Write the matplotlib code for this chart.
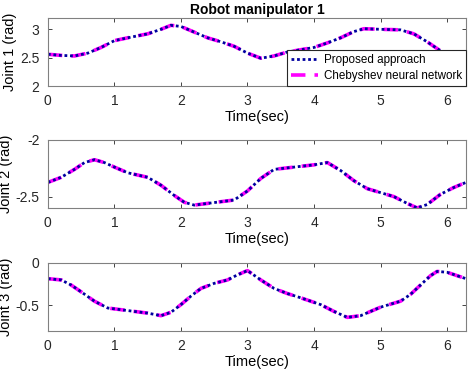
import numpy as np
import matplotlib.pyplot as plt

plt.rcParams['font.family'] = ['Liberation Sans', 'DejaVu Sans']

# values
t1 = [0, 0.2, 0.4, 0.6, 0.8, 1.0, 1.2, 1.5, 1.7, 1.85, 2.0, 2.2, 2.4, 2.6, 2.8, 3.0, 3.2,
      3.4, 3.6, 3.8, 4.0, 4.2, 4.4, 4.6, 4.75, 5.0, 5.3, 5.5, 5.7, 5.9, 6.1, 6.283]
j1 = [2.56, 2.54, 2.53, 2.58, 2.68, 2.8, 2.85, 2.92, 3.0, 3.07, 3.05, 2.95, 2.85, 2.78, 2.7, 2.58, 2.49,
      2.53, 2.6, 2.64, 2.68, 2.76, 2.85, 2.96, 3.01, 3.0, 2.99, 2.92, 2.78, 2.62, 2.55, 2.52]

t2 = [0, 0.2, 0.4, 0.55, 0.7, 0.85, 1.0, 1.2, 1.5, 1.7, 1.9, 2.05, 2.2, 2.4, 2.6, 2.8, 3.0,
      3.2, 3.4, 3.7, 4.0, 4.2, 4.4, 4.6, 4.8, 5.0, 5.2, 5.4, 5.55, 5.7, 5.9, 6.1, 6.283]
j2 = [-2.375, -2.33, -2.26, -2.2, -2.175, -2.2, -2.24, -2.29, -2.33, -2.4, -2.49, -2.55, -2.575,
      -2.56, -2.545, -2.53, -2.45, -2.34, -2.26, -2.24, -2.22, -2.2, -2.27, -2.36, -2.43, -2.465,
      -2.5, -2.56, -2.6, -2.57, -2.48, -2.42, -2.375]

t3 = [0, 0.2, 0.35, 0.5, 0.7, 0.9, 1.2, 1.5, 1.7, 1.85, 2.0, 2.15, 2.3, 2.5, 2.7, 2.85, 3.0,
      3.2, 3.4, 3.6, 3.8, 4.1, 4.3, 4.5, 4.7, 5.0, 5.3, 5.45, 5.6, 5.75, 5.85, 6.0, 6.283]
j3 = [-0.185, -0.2, -0.26, -0.34, -0.45, -0.53, -0.56, -0.59, -0.62, -0.58, -0.49, -0.39, -0.3,
      -0.24, -0.2, -0.14, -0.09, -0.2, -0.3, -0.36, -0.41, -0.49, -0.57, -0.64, -0.62, -0.52,
      -0.45, -0.37, -0.26, -0.15, -0.1, -0.11, -0.185]

series = [(t1, j1, 'Joint 1 (rad)', (2, 3.2), [2, 2.5, 3], ['2', '2.5', '3']),
          (t2, j2, 'Joint 2 (rad)', (-2.6, -2), [-2.5, -2], ['-2.5', '-2']),
          (t3, j3, 'Joint 3 (rad)', (-0.8, 0), [-0.5, 0], ['-0.5', '0'])]

fig = plt.figure(figsize=(4.74, 3.74), dpi=100)
bottoms = [0.770, 0.444, 0.115]
axc = '#262626'

for k, (t, j, ylab, ylim, yt, ytl) in enumerate(series):
    ax = fig.add_axes([0.101, bottoms[k], 0.882, 0.182])
    ax.plot(t, j, color='#ff00ff', linestyle=(0, (4, 2.5)), linewidth=2.6,
            label='Chebyshev neural network')
    ax.plot(t, j, color='#0000a0', linestyle=(0, (1, 1)), linewidth=2.0,
            label='Proposed approach')
    ax.set_xlim(0, 2 * np.pi)
    ax.set_ylim(*ylim)
    ax.set_xticks([0, 1, 2, 3, 4, 5, 6])
    ax.set_yticks(yt)
    ax.set_yticklabels(ytl)
    ax.tick_params(direction='in', top=True, right=True, labelsize=10, length=3,
                   colors=axc, width=0.6, pad=6)
    for s in ax.spines.values():
        s.set_color('#808080')
        s.set_linewidth(0.8)
    ax.set_xlabel('Time(sec)', fontsize=10.5, labelpad=1)
    ax.set_ylabel(ylab, fontsize=10.5, labelpad=2)
    if k == 0:
        ax.set_title('Robot manipulator 1', fontsize=10, fontweight='bold', pad=3)
        h, l = ax.get_legend_handles_labels()
        leg = ax.legend(h[::-1], l[::-1], loc='lower right', fontsize=8.4,
                        borderaxespad=0, handlelength=2.3, fancybox=False,
                        framealpha=1, borderpad=0.35, labelspacing=0.35, handletextpad=0.5)
        leg.get_frame().set_edgecolor('#262626')
        leg.get_frame().set_linewidth(0.8)

fig.savefig('out.png', dpi=100)
